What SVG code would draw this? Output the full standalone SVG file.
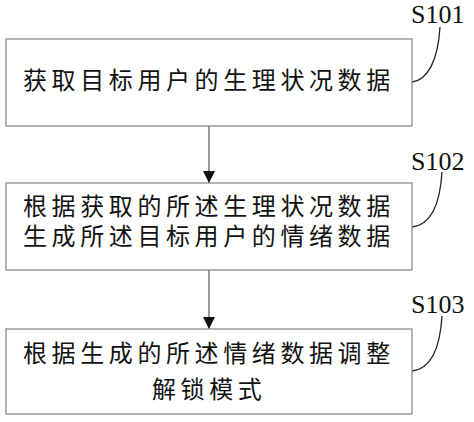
<svg xmlns="http://www.w3.org/2000/svg" width="474" height="422" viewBox="0 0 474 422">
<style>
.box{fill:#fff;stroke:#8a8a8a;stroke-width:1.3}
.t{font-family:"Liberation Sans","Noto Sans CJK SC","Noto Sans CJK JP",sans-serif;font-size:24px;letter-spacing:4.6px;fill:#111}
.lbl{font-family:"Liberation Serif","Times New Roman",serif;font-size:26px;fill:#111}
.cn{fill:none;stroke:#222;stroke-width:1.3}
.ln{fill:none;stroke:#555;stroke-width:1.2}
</style>
<defs>
<marker id="ah" markerWidth="12" markerHeight="12" refX="12" refY="6" orient="auto" markerUnits="userSpaceOnUse">
<path d="M0,0 L12,6 L0,12 Z" fill="#111"/>
</marker>
</defs>
<rect width="474" height="422" fill="#fff"/>
<g id="connectors">
<line class="ln" x1="209" y1="126" x2="209" y2="183" marker-end="url(#ah)"/>
<line class="ln" x1="209" y1="270" x2="209" y2="329" marker-end="url(#ah)"/>
<path class="cn" d="M440,27 C438,60 428,80 412,82"/>
<path class="cn" d="M442,172 C440,205 430,225 412,227"/>
<path class="cn" d="M442,316 C440,349 430,369 412,371"/>
</g>
<g id="s101">
<rect class="box" x="6" y="39" width="406" height="87"/>
<text class="t" x="23" y="89">获取目标用户的生理状况数据</text>
<text class="lbl" x="411" y="23">S101</text>
</g>
<g id="s102">
<rect class="box" x="6" y="183" width="406" height="87"/>
<text class="t" x="23" y="215">根据获取的所述生理状况数据</text>
<text class="t" x="23" y="245">生成所述目标用户的情绪数据</text>
<text class="lbl" x="411" y="170">S102</text>
</g>
<g id="s103">
<rect class="box" x="6" y="329" width="406" height="85"/>
<text class="t" x="23" y="362">根据生成的所述情绪数据调整</text>
<text class="t" x="152" y="398">解锁模式</text>
<text class="lbl" x="411" y="313">S103</text>
</g>
</svg>
